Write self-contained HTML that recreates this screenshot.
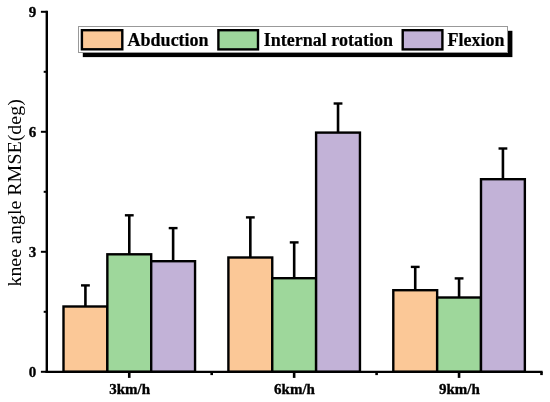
<!DOCTYPE html>
<html><head><meta charset="utf-8"><style>
html,body{margin:0;padding:0;background:#fff;}
svg{display:block;}
.b{font-family:"Liberation Serif","Times New Roman",serif;font-weight:bold;fill:#000;}
.s{stroke:#000;stroke-width:0.35px;}
.l{stroke:#000;stroke-width:0.2px;}
.r{font-family:"Liberation Serif","Times New Roman",serif;fill:#000;}
</style></head><body>
<svg width="550" height="402" viewBox="0 0 550 402">
<rect width="550" height="402" fill="#fff"/>
<rect x="63.50" y="306.50" width="43.85" height="65.30" fill="#FBC897" stroke="#000" stroke-width="2.4"/>
<rect x="107.35" y="254.30" width="43.85" height="117.50" fill="#9ED79B" stroke="#000" stroke-width="2.4"/>
<rect x="151.20" y="261.20" width="43.85" height="110.60" fill="#C2B2D7" stroke="#000" stroke-width="2.4"/>
<rect x="228.40" y="257.50" width="43.85" height="114.30" fill="#FBC897" stroke="#000" stroke-width="2.4"/>
<rect x="272.25" y="278.20" width="43.85" height="93.60" fill="#9ED79B" stroke="#000" stroke-width="2.4"/>
<rect x="316.10" y="132.60" width="43.85" height="239.20" fill="#C2B2D7" stroke="#000" stroke-width="2.4"/>
<rect x="393.30" y="290.20" width="43.85" height="81.60" fill="#FBC897" stroke="#000" stroke-width="2.4"/>
<rect x="437.15" y="297.50" width="43.85" height="74.30" fill="#9ED79B" stroke="#000" stroke-width="2.4"/>
<rect x="481.00" y="179.20" width="43.85" height="192.60" fill="#C2B2D7" stroke="#000" stroke-width="2.4"/>
<line x1="85.42" y1="306.50" x2="85.42" y2="285.40" stroke="#000" stroke-width="2.6"/>
<line x1="81.02" y1="285.40" x2="89.83" y2="285.40" stroke="#000" stroke-width="2.4"/>
<line x1="129.28" y1="254.30" x2="129.28" y2="215.30" stroke="#000" stroke-width="2.6"/>
<line x1="124.88" y1="215.30" x2="133.68" y2="215.30" stroke="#000" stroke-width="2.4"/>
<line x1="173.12" y1="261.20" x2="173.12" y2="228.10" stroke="#000" stroke-width="2.6"/>
<line x1="168.72" y1="228.10" x2="177.53" y2="228.10" stroke="#000" stroke-width="2.4"/>
<line x1="250.33" y1="257.50" x2="250.33" y2="217.40" stroke="#000" stroke-width="2.6"/>
<line x1="245.93" y1="217.40" x2="254.73" y2="217.40" stroke="#000" stroke-width="2.4"/>
<line x1="294.18" y1="278.20" x2="294.18" y2="242.40" stroke="#000" stroke-width="2.6"/>
<line x1="289.78" y1="242.40" x2="298.57" y2="242.40" stroke="#000" stroke-width="2.4"/>
<line x1="338.03" y1="132.60" x2="338.03" y2="103.50" stroke="#000" stroke-width="2.6"/>
<line x1="333.63" y1="103.50" x2="342.43" y2="103.50" stroke="#000" stroke-width="2.4"/>
<line x1="415.23" y1="290.20" x2="415.23" y2="266.90" stroke="#000" stroke-width="2.6"/>
<line x1="410.83" y1="266.90" x2="419.62" y2="266.90" stroke="#000" stroke-width="2.4"/>
<line x1="459.08" y1="297.50" x2="459.08" y2="278.40" stroke="#000" stroke-width="2.6"/>
<line x1="454.68" y1="278.40" x2="463.48" y2="278.40" stroke="#000" stroke-width="2.4"/>
<line x1="502.93" y1="179.20" x2="502.93" y2="148.50" stroke="#000" stroke-width="2.6"/>
<line x1="498.53" y1="148.50" x2="507.32" y2="148.50" stroke="#000" stroke-width="2.4"/>
<line x1="46.8" y1="10.80" x2="46.8" y2="372.90" stroke="#000" stroke-width="2.4"/>
<line x1="45.599999999999994" y1="371.8" x2="542.6" y2="371.8" stroke="#000" stroke-width="2.2"/>
<line x1="40.9" y1="371.80" x2="46.8" y2="371.80" stroke="#000" stroke-width="2.0"/>
<line x1="40.9" y1="251.80" x2="46.8" y2="251.80" stroke="#000" stroke-width="2.0"/>
<line x1="40.9" y1="131.80" x2="46.8" y2="131.80" stroke="#000" stroke-width="2.0"/>
<line x1="40.9" y1="11.80" x2="46.8" y2="11.80" stroke="#000" stroke-width="2.0"/>
<line x1="43.7" y1="311.80" x2="46.8" y2="311.80" stroke="#000" stroke-width="2.0"/>
<line x1="43.7" y1="191.80" x2="46.8" y2="191.80" stroke="#000" stroke-width="2.0"/>
<line x1="43.7" y1="71.80" x2="46.8" y2="71.80" stroke="#000" stroke-width="2.0"/>
<line x1="129.25" y1="371.8" x2="129.25" y2="377.9" stroke="#000" stroke-width="2.6"/>
<line x1="211.70" y1="371.8" x2="211.70" y2="375.1" stroke="#000" stroke-width="2.6"/>
<line x1="294.15" y1="371.8" x2="294.15" y2="377.9" stroke="#000" stroke-width="2.6"/>
<line x1="376.60" y1="371.8" x2="376.60" y2="375.1" stroke="#000" stroke-width="2.6"/>
<line x1="459.05" y1="371.8" x2="459.05" y2="377.9" stroke="#000" stroke-width="2.6"/>
<line x1="541.50" y1="371.8" x2="541.50" y2="375.1" stroke="#000" stroke-width="2.6"/>
<text x="36.2" y="376.55" text-anchor="end" class="b s" font-size="15">0</text>
<text x="36.2" y="256.55" text-anchor="end" class="b s" font-size="15">3</text>
<text x="36.2" y="136.55" text-anchor="end" class="b s" font-size="15">6</text>
<text x="36.2" y="16.55" text-anchor="end" class="b s" font-size="15">9</text>
<text x="129.65" y="394.1" text-anchor="middle" class="b s" font-size="15">3km/h</text>
<text x="294.55" y="394.1" text-anchor="middle" class="b s" font-size="15">6km/h</text>
<text x="459.45" y="394.1" text-anchor="middle" class="b s" font-size="15">9km/h</text>
<text transform="translate(20.7,286.6) rotate(-90)" x="0" y="0" font-size="18" textLength="187.4" lengthAdjust="spacingAndGlyphs" class="r">knee angle RMSE(deg)</text>
<rect x="82.8" y="30.8" width="429.6" height="26.3" fill="#000"/>
<rect x="78.5" y="26.5" width="429" height="26" fill="#fff" stroke="#999" stroke-width="1"/>
<rect x="81.9" y="30.2" width="40.4" height="19.1" fill="#FBC897" stroke="#000" stroke-width="2.4"/>
<rect x="218.4" y="30.2" width="39.6" height="19.2" fill="#9ED79B" stroke="#000" stroke-width="2.4"/>
<rect x="402.7" y="30.2" width="39.7" height="19.2" fill="#C2B2D7" stroke="#000" stroke-width="2.4"/>
<text x="127.6" y="45.5" class="b l" font-size="18">Abduction</text>
<text x="263.8" y="45.5" class="b l" font-size="18">Internal rotation</text>
<text x="447.6" y="45.5" class="b l" font-size="18">Flexion</text>
</svg>
</body></html>
